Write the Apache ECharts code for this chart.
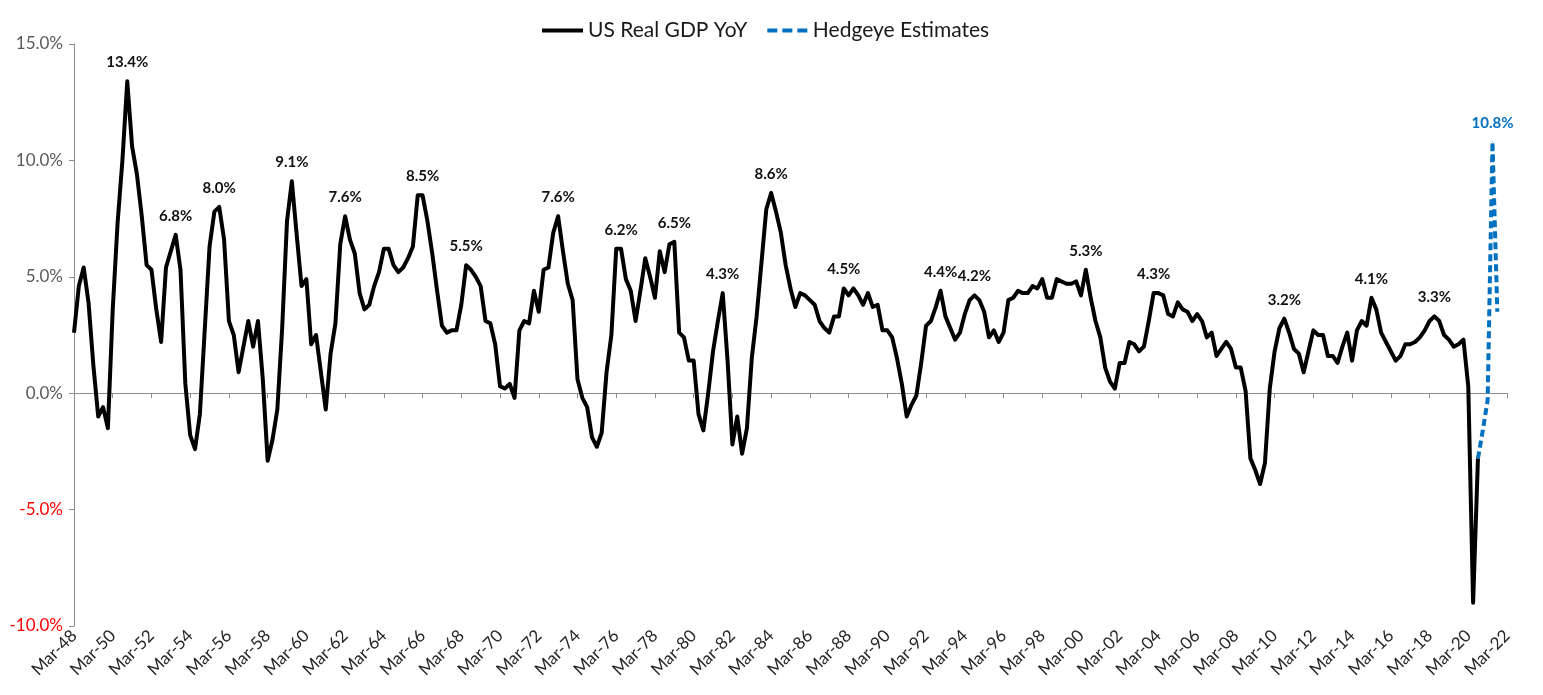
<!DOCTYPE html>
<html><head><meta charset="utf-8">
<script src="https://cdn.jsdelivr.net/npm/echarts@6/dist/echarts.min.js"></script>
<style>html,body{margin:0;padding:0;background:#fff}#chart{width:1543px;height:695px}</style>
</head><body><div id="chart"></div>
<script>
// ---- categories (quarters, Mar-48 .. Mar-22) ----
const quarterNames = ['Mar', 'Jun', 'Sep', 'Dec'];
const firstYear = 1948, lastYear = 2022;
const categories = [];
for (let y = firstYear; y <= lastYear; y++) {
  for (const q of quarterNames) {
    if (y === lastYear && q !== 'Mar') break;
    categories.push(q + '-' + String(y % 100).padStart(2, '0'));
  }
}

// ---- US Real GDP YoY (%), Mar-48 .. Sep-20 ----
const gdpYoY = [
  2.6, 4.6, 5.4, 3.9, 1.2, -1.0, -0.6, -1.5,
  3.6, 7.3, 10.0, 13.4, 10.6, 9.4, 7.6, 5.5,
  5.3, 3.6, 2.2, 5.4, 6.1, 6.8, 5.3, 0.4,
  -1.8, -2.4, -0.9, 2.7, 6.3, 7.8, 8.0, 6.6,
  3.1, 2.5, 0.9, 2.0, 3.1, 2.0, 3.1, 0.6,
  -2.9, -2.0, -0.7, 2.8, 7.4, 9.1, 6.8, 4.6,
  4.9, 2.1, 2.5, 0.9, -0.7, 1.7, 3.0, 6.4,
  7.6, 6.6, 6.0, 4.3, 3.6, 3.8, 4.6, 5.2,
  6.2, 6.2, 5.5, 5.2, 5.4, 5.8, 6.3, 8.5,
  8.5, 7.4, 6.0, 4.4, 2.9, 2.6, 2.7, 2.7,
  3.8, 5.5, 5.3, 5.0, 4.6, 3.1, 3.0, 2.1,
  0.3, 0.2, 0.4, -0.2, 2.7, 3.1, 3.0, 4.4,
  3.5, 5.3, 5.4, 6.9, 7.6, 6.1, 4.7, 4.0,
  0.6, -0.2, -0.6, -1.9, -2.3, -1.7, 0.9, 2.5,
  6.2, 6.2, 4.9, 4.4, 3.1, 4.4, 5.8, 5.0,
  4.1, 6.1, 5.2, 6.4, 6.5, 2.6, 2.4, 1.4,
  1.4, -0.9, -1.6, 0.0, 1.8, 3.1, 4.3, 1.4,
  -2.2, -1.0, -2.6, -1.5, 1.5, 3.3, 5.6, 7.9,
  8.6, 7.8, 6.9, 5.5, 4.5, 3.7, 4.3, 4.2,
  4.0, 3.8, 3.1, 2.8, 2.6, 3.3, 3.3, 4.5,
  4.2, 4.5, 4.2, 3.8, 4.3, 3.7, 3.8, 2.7,
  2.7, 2.4, 1.5, 0.4, -1.0, -0.5, -0.1, 1.3,
  2.9, 3.1, 3.7, 4.4, 3.3, 2.8, 2.3, 2.6,
  3.4, 4.0, 4.2, 4.0, 3.5, 2.4, 2.7, 2.2,
  2.6, 4.0, 4.1, 4.4, 4.3, 4.3, 4.6, 4.5,
  4.9, 4.1, 4.1, 4.9, 4.8, 4.7, 4.7, 4.8,
  4.2, 5.3, 4.1, 3.1, 2.4, 1.1, 0.5, 0.2,
  1.3, 1.3, 2.2, 2.1, 1.8, 2.0, 3.1, 4.3,
  4.3, 4.2, 3.4, 3.3, 3.9, 3.6, 3.5, 3.1,
  3.4, 3.1, 2.4, 2.6, 1.6, 1.9, 2.2, 1.9,
  1.1, 1.1, 0.1, -2.8, -3.3, -3.9, -3.0, 0.2,
  1.8, 2.8, 3.2, 2.6, 1.9, 1.7, 0.9, 1.8,
  2.7, 2.5, 2.5, 1.6, 1.6, 1.3, 2.0, 2.6,
  1.4, 2.7, 3.1, 2.9, 4.1, 3.6, 2.6, 2.2,
  1.8, 1.4, 1.6, 2.1, 2.1, 2.2, 2.4, 2.7,
  3.1, 3.3, 3.1, 2.5, 2.3, 2.0, 2.1, 2.3,
  0.3, -9.0, -2.8
];

// ---- Hedgeye estimates (%), from Sep-20 ----
const estimateStart = 'Sep-20';
const hedgeyeEstimates = [-2.8, -1.6, -0.3, 10.8, 3.5];

// ---- labelled points ----
const gdpLabelled = ['Dec-50','Jun-53','Sep-55','Jun-59','Mar-62','Mar-66','Jun-68','Mar-73',
  'Jun-76','Mar-79','Sep-81','Mar-84','Dec-87','Dec-92','Sep-94','Jun-00','Dec-03','Sep-10','Mar-15','Jun-18'];
const estimateLabelled = ['Jun-21'];

const FONT = 'Lato, "Open Sans", sans-serif';
const gdpSet = new Set(gdpLabelled);
const estSet = new Set(estimateLabelled);
const labelled = v => ({ value: v, symbol: 'circle', symbolSize: 1, label: { show: true } });
const gdpData = gdpYoY.map((v, i) => gdpSet.has(categories[i]) ? labelled(v) : v);
const estStartIdx = categories.indexOf(estimateStart);
const estData = [];
for (let i = 0; i < estStartIdx; i++) estData.push(null);
hedgeyeEstimates.forEach((v, k) => {
  const cat = categories[estStartIdx + k];
  estData.push(estSet.has(cat) ? labelled(v) : v);
});

const pct = p => Number(p.value).toFixed(1) + '%';

const chart = echarts.init(document.getElementById('chart'), null, { renderer: 'canvas' });
chart.setOption({
  animation: false,
  backgroundColor: '#ffffff',
  textStyle: { fontFamily: FONT },
  legend: {
    left: 537, top: 15, itemWidth: 41, itemHeight: 4, itemGap: 20,
    textStyle: { fontFamily: FONT, fontSize: 21, color: '#1a1a1a' },
    data: [
      { name: 'US Real GDP YoY', icon: 'path://M0,0H41V4H0Z', itemStyle: { color: '#000000' } },
      { name: 'Hedgeye Estimates', icon: 'path://M0,0H10V4H0Z M15,0H25V4H15Z M30,0H40V4H30Z', itemStyle: { color: '#0070c0' } }
    ]
  },
  grid: { left: 74, right: 36, top: 44, bottom: 69 },
  xAxis: [
    {
      type: 'category', data: categories, boundaryGap: false, position: 'bottom',
      axisLine: { show: true, onZero: true, lineStyle: { color: '#8c8c8c', width: 1 } },
      axisTick: { show: true, interval: 7, length: 5, lineStyle: { color: '#8c8c8c' } },
      axisLabel: { show: false }, splitLine: { show: false }
    },
    {
      type: 'category', data: categories, boundaryGap: false, position: 'bottom',
      axisLine: { show: false, onZero: false }, axisTick: { show: false },
      axisLabel: { show: true, interval: 7, rotate: 45, margin: 7, fontFamily: FONT, fontSize: 17, color: '#262626' },
      splitLine: { show: false }
    }
  ],
  yAxis: {
    type: 'value', min: -10, max: 15, interval: 5,
    axisLine: { show: true, lineStyle: { color: '#8c8c8c', width: 1 } },
    axisTick: { show: true, length: 5, lineStyle: { color: '#8c8c8c' } },
    splitLine: { show: false },
    axisLabel: {
      margin: 11, fontFamily: FONT, fontSize: 17,
      formatter: v => (v < 0 ? '{neg|' : '{pos|') + v.toFixed(1) + '%}',
      rich: { neg: { color: '#ff0000', fontFamily: FONT, fontSize: 17 }, pos: { color: '#595959', fontFamily: FONT, fontSize: 17 } }
    }
  },
  series: [
    {
      name: 'US Real GDP YoY', type: 'line', xAxisIndex: 0, data: gdpData,
      symbol: 'none', showSymbol: true, showAllSymbol: true, z: 3,
      lineStyle: { color: '#000000', width: 4, join: 'round' },
      itemStyle: { color: '#000000' },
      label: { show: false, position: 'top', distance: 11, formatter: pct, fontFamily: FONT, fontWeight: 'bold', fontSize: 15, color: '#111111' }
    },
    {
      name: 'Hedgeye Estimates', type: 'line', xAxisIndex: 0, data: estData,
      symbol: 'none', showSymbol: true, showAllSymbol: true, z: 4,
      lineStyle: { color: '#0070c0', width: 4, type: [7, 4] },
      itemStyle: { color: '#0070c0' },
      label: { show: false, position: 'top', distance: 11, formatter: pct, fontFamily: FONT, fontWeight: 'bold', fontSize: 15, color: '#0070c0' }
    }
  ]
});
</script>
</body></html>
